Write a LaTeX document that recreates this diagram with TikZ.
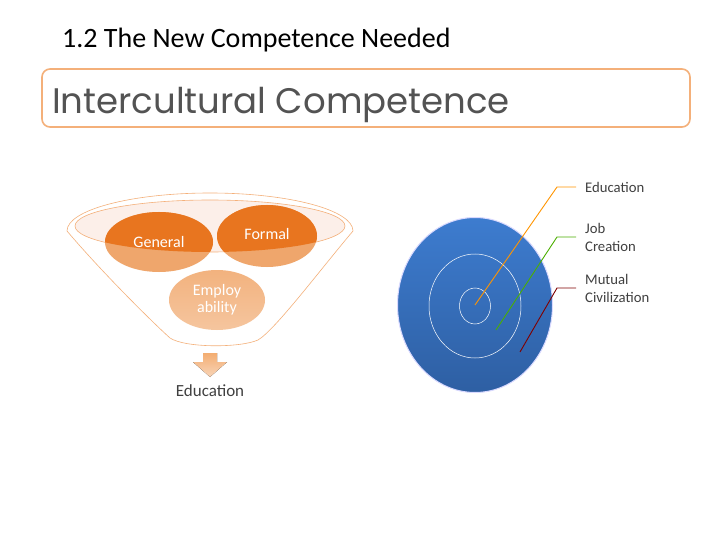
\documentclass[tikz,border=0pt]{standalone}
\usepackage{fontspec}
\setmainfont{Carlito}
\newfontfamily\gothic{Poppins}
\usepackage{xcolor}
\usetikzlibrary{arrows.meta, positioning, shapes.geometric, calc}
\definecolor{orBox}{HTML}{F4B07A}
\definecolor{orDark}{HTML}{E8751F}
\definecolor{orLight}{HTML}{EFA66C}
\definecolor{orPale}{HTML}{F2B27E}
\definecolor{rimPink}{HTML}{FCEFE9}
\definecolor{txtGray}{HTML}{404040}
\definecolor{blueTop}{HTML}{3D7CCF}
\definecolor{blueBot}{HTML}{2E5FA3}

\begin{document}
\begin{tikzpicture}[x=1pt, y=1pt,
    blob/.style={ellipse, inner sep=0pt, text=white, font=\fontsize{16}{17}\selectfont, align=center},
    lbl/.style={anchor=west, text=txtGray, font=\fontsize{14.7}{18}\selectfont, align=left, inner sep=0pt},
    lead/.style={line width=0.9pt}
]
\useasboundingbox (0,0) rectangle (720,-540);
\fill[white] (0,0) rectangle (720,-540);

% heading
\node[anchor=base west, inner sep=0pt, font=\fontsize{28}{30}\selectfont] (title) at (62,-48) {1.2 The New Competence Needed};
\draw[orBox, line width=1.6pt, rounded corners=8pt, fill=white] (42,-69) rectangle (690,-127);
\node[anchor=base west, inner sep=0pt, text=txtGray!90, font=\gothic\fontsize{35.5}{36}\selectfont] (ic) at (52,-114) {Intercultural Competence};

% funnel
\coordinate (rimc) at (210,-226);
\fill[rimPink] (rimc) ellipse[x radius=135, y radius=26];
\draw[orBox, line width=0.6pt] (67,-231) arc[start angle=180, end angle=0, x radius=143, y radius=38]
    .. controls (320,-270) and (275,-330) .. (258,-340) .. controls (240,-348) and (185,-348) .. (170,-338)
    .. controls (150,-320) and (100,-270) .. cycle;
\draw[orBox, line width=0.6pt] (rimc) ellipse[x radius=135, y radius=26];

\node[blob, fill=orLight, minimum width=108, minimum height=60,
      path picture={\fill[orDark] (rimc) ellipse[x radius=135pt, y radius=26pt];}] (gen) at (159,-242) {General};
\node[blob, fill=orLight, minimum width=100, minimum height=62,
      path picture={\fill[orDark] (rimc) ellipse[x radius=135pt, y radius=26pt];}] (form) at (267,-236) {\raisebox{4pt}{Formal}};
\node[blob, top color=orPale, bottom color=orPale!75, minimum width=96, minimum height=60] (emp) at (217,-300) {Employ\\ability};

\fill[top color=orPale!90!orange, bottom color=orPale!55] (203,-353) -- (217,-353) -- (217,-362) -- (227,-362)
    -- (210,-377) -- (193,-362) -- (203,-362) -- cycle;
\node[text=txtGray, font=\fontsize{17}{18}\selectfont, inner sep=0pt] (edu) at (210,-391) {Education};

% target
\node[ellipse, minimum width=155, minimum height=175, draw=white!85!blue, line width=1pt,
      top color=blueTop, bottom color=blueBot] (outer) at (475,-305) {};
\node[ellipse, minimum width=92, minimum height=104, draw=white, line width=0.5pt] (mid) at (475,-306) {};
\node[ellipse, minimum width=31, minimum height=36, draw=white, line width=0.5pt] (core) at (475,-306) {};

\node[lbl] (le) at (585,-187) {Education};
\node[lbl] (lj) at (585,-237) {Job\\Creation};
\node[lbl] (lm) at (585,-288) {Mutual\\Civilization};

\coordinate (pe) at (475,-305);
\coordinate (pj) at (496,-330);
\coordinate (pm) at (520,-352);
\draw[lead, orange!70!yellow!90!red] (pe) -- (557,-187) -- ([xshift=-9pt]le.west);
\draw[lead, green!55!black!70!yellow] (pj) -- (557,-237) -- ([xshift=-9pt]lj.west);
\draw[lead, red!50!black] (pm) -- (557,-288) -- ([xshift=-9pt]lm.west);
\end{tikzpicture}
\end{document}
